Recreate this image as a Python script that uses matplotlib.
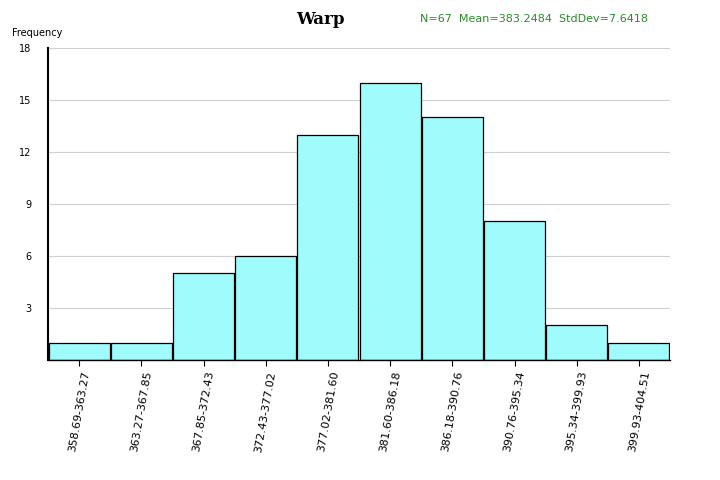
import matplotlib
matplotlib.use("Agg")
import matplotlib.pyplot as plt
import numpy as np

bins = ["358.69-363.27", "363.27-367.85", "367.85-372.43", "372.43-377.02",
        "377.02-381.60", "381.60-386.18", "386.18-390.76", "390.76-395.34",
        "395.34-399.93", "399.93-404.51"]
counts = [1, 1, 5, 6, 13, 16, 14, 8, 2, 1]
yticks = [3, 6, 9, 12, 15, 18]

fig = plt.figure(figsize=(7.2, 4.8), dpi=100)
ax = fig.add_axes([48 / 720, 1 - 360 / 480, 622 / 720, 312 / 480])
x = np.arange(len(bins))
ax.bar(x + 0.01, counts, width=0.98, align="edge", color="#a0fcfc", edgecolor="black", linewidth=0.9)
ax.set_xlim(0, len(bins))
ax.set_ylim(0, 18)
ax.set_yticks(yticks)
ax.set_yticklabels([str(t) for t in yticks], fontsize=7)
ax.set_xticks(x + 0.5)
ax.set_xticklabels(bins, rotation=80, fontsize=8)
ax.grid(axis="y", color="#d0d0d0", linewidth=0.8)
ax.set_axisbelow(True)
for s in ["top", "right"]:
    ax.spines[s].set_visible(False)
ax.spines["left"].set_linewidth(1.5)
ax.spines["bottom"].set_linewidth(1.0)
ax.tick_params(axis="y", length=0, pad=12)
ax.tick_params(axis="x", length=4)

fig.text(12 / 720, 1 - 33 / 480, "Frequency", fontsize=7, va="center")
fig.text(320 / 720, 1 - 19 / 480, "Warp", fontsize=12, fontweight="bold",
         family="DejaVu Serif", ha="center", va="center")
fig.text(420 / 720, 1 - 19 / 480, "N=67  Mean=383.2484  StdDev=7.6418",
         fontsize=8, color="#2a8a2a", va="center")

fig.savefig("out.png", dpi=100)
